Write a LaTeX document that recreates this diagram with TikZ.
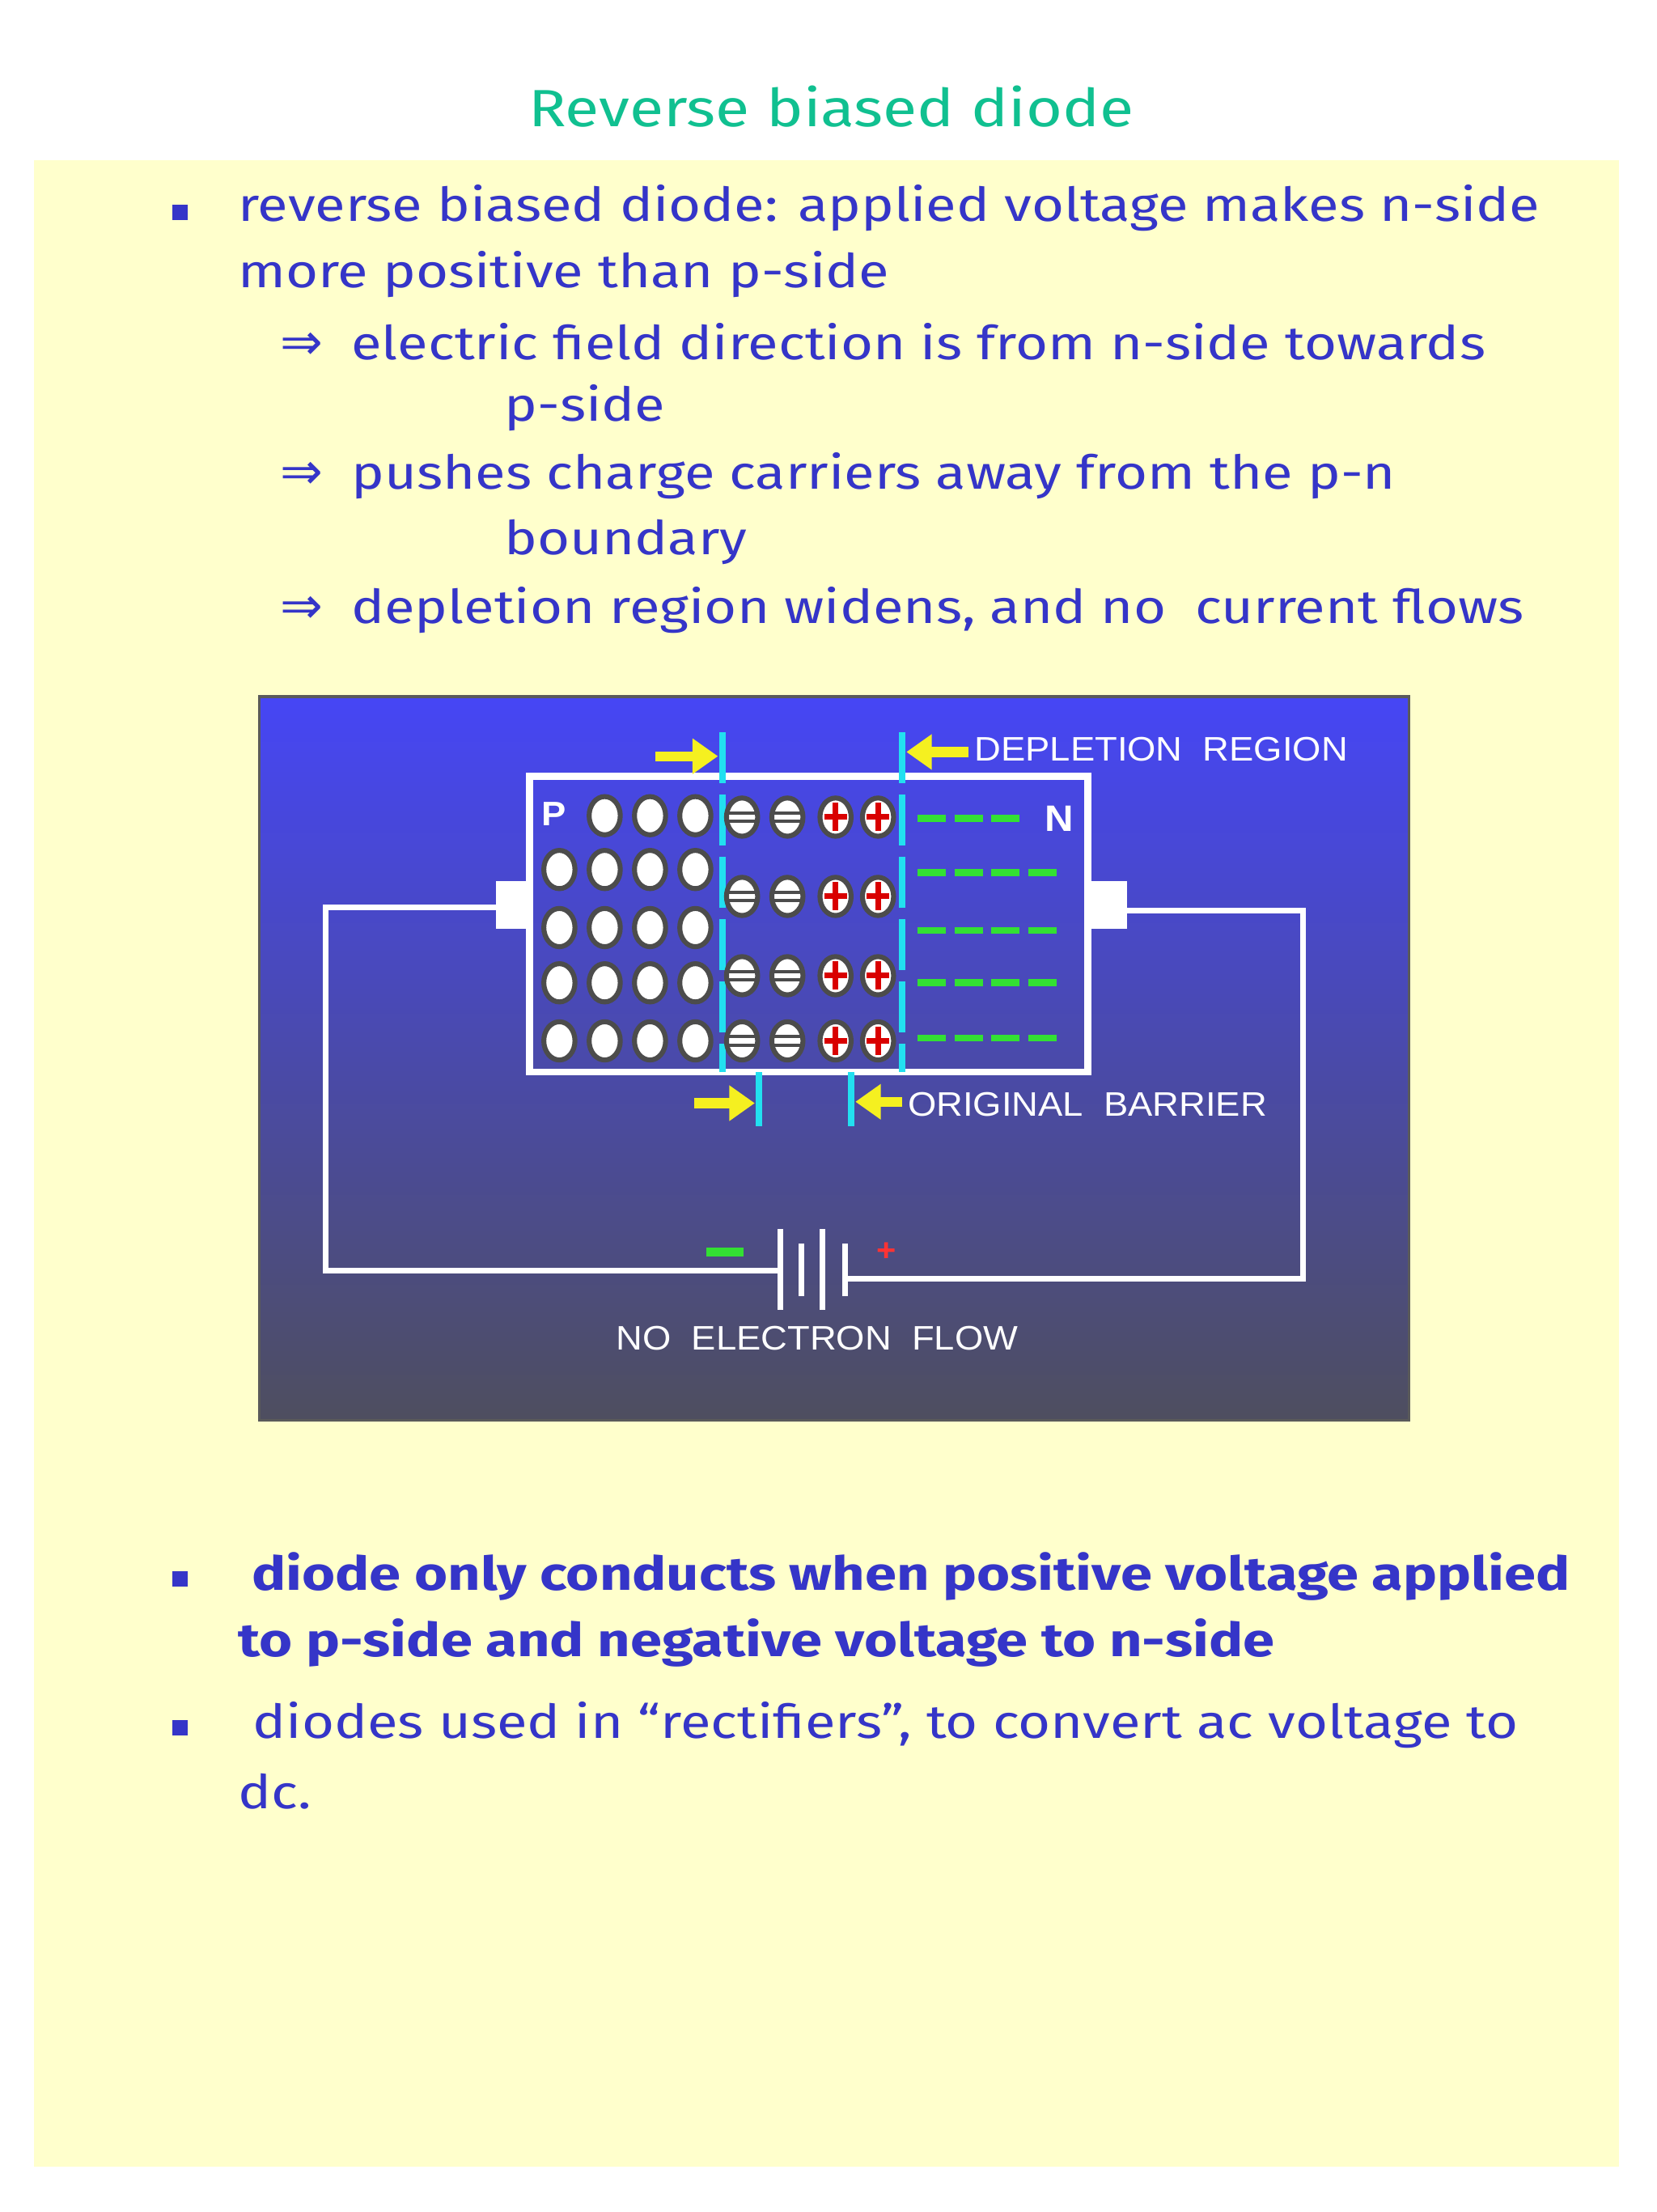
\documentclass[tikz,border=0pt]{standalone}
\usepackage{fontspec}
\setmainfont{Fira Sans}[FakeStretch=1.19]
\newfontfamily\diagfont{Liberation Sans}[FakeStretch=1.08]
\newfontfamily\symfont{DejaVu Sans}
\usetikzlibrary{shapes.geometric,arrows.meta}
\definecolor{txt}{HTML}{3535C8}
\definecolor{ttl}{HTML}{10C090}
\definecolor{pan}{HTML}{FFFFCC}
\definecolor{cy}{HTML}{22E0F0}
\definecolor{yl}{HTML}{F5F020}
\definecolor{gr}{HTML}{33E033}
\newcommand{\impl}{\makebox[50pt][l]{\symfont\fontsize{36}{36}\selectfont ⇒}}
\tikzset{
  body/.style={anchor=west,text=txt,font=\fontsize{33}{40}\selectfont,inner sep=0},
  bul/.style={fill=txt,minimum size=11,inner sep=0},
  hole/.style={ellipse,draw=black!70,line width=3.5,fill=white,minimum width=22,minimum height=27,inner sep=0},
  ion/.style={hole},
  wire/.style={white,line width=4},
  cyl/.style={cy,line width=4.5},
  yarr/.style={yl,line width=7,-{Triangle[length=18,width=24]}},
  dlab/.style={anchor=west,text=white,font=\diagfont\fontsize{24}{26}\selectfont,inner sep=0},
}
\begin{document}
\begin{tikzpicture}[x=1pt,y=-1pt]
\useasboundingbox (0,0) rectangle (1170,1562);
\fill[white] (0,0) rectangle (1170,1562);
\fill[pan] (24,113) rectangle (1143,1530);
\node[text=ttl,font=\fontsize{37}{44}\selectfont] (title) at (587,75) {Reverse biased diode};
% bullets and text
\node[bul] (b1) at (127,150) {};
\node[body] (t1) at (168,147) {reverse biased diode: applied voltage makes n-side};
\node[body] (t2) at (168,194) {more positive than p-side};
\node[body] (t3) at (198,241) {\impl electric field direction is from n-side towards};
\node[body] (t4) at (356,288) {p-side};
\node[body] (t5) at (198,336) {\impl pushes charge carriers away from the p-n};
\node[body] (t6) at (356,383) {boundary};
\node[body] (t7) at (198,431) {\impl depletion region widens, and no\ \ current flows};
\node[bul] (b2) at (127,1115) {};
\node[body,font=\bfseries\fontsize{33}{40}\selectfont\addfontfeature{FakeStretch=1.22}] (t8) at (168,1113) {\ diode only conducts when positive voltage applied};
\node[body,font=\bfseries\fontsize{33}{40}\selectfont\addfontfeature{FakeStretch=1.22}] (t9) at (168,1160) {to p-side and negative voltage to n-side};
\node[bul] (b3) at (127,1220) {};
\node[body] (t10) at (168,1218) {\ diodes used in “rectifiers”, to convert ac voltage to};
\node[body] (t11) at (168,1265) {dc.};
% diagram background
\shade[top color={rgb,255:red,70;green,70;blue,245},middle color={rgb,255:red,72;green,72;blue,232},bottom color={rgb,255:red,78;green,78;blue,95},draw={rgb,255:red,90;green,90;blue,90},line width=2] (183,492) rectangle (995,1003);
% wires
\coordinate (lt) at (352,641); \coordinate (lc) at (230,641); \coordinate (lb) at (230,897); \coordinate (bl) at (551,897);
\coordinate (rt) at (796,643); \coordinate (rc) at (920,643); \coordinate (rb) at (920,903); \coordinate (br) at (597,903);
\draw[wire] (lt) -- (lc) -- (lb) -- (bl);
\draw[wire] (rt) -- (rc) -- (rb) -- (br);
% battery
\draw[white,line width=4] (551,868) -- (551,925) (566,878) -- (566,915) (581,868) -- (581,925) (597,878) -- (597,915);
\fill[gr] (499,881) rectangle (525,887);
\node[text=red!80!white,font=\diagfont\bfseries\fontsize{22}{22}\selectfont] (bp) at (626,884) {+};
\node[text=white,font=\diagfont\fontsize{24}{26}\selectfont] (nef) at (577,945) {NO\ \ ELECTRON\ \ FLOW};
% diode body
\fill[white] (350,622) rectangle (376,656);
\fill[white] (766,622) rectangle (796,656);
\draw[white,line width=5] (374,548) rectangle (768,757);
% cyan lines
\draw[cyl,dash pattern=on 36 off 8] (510,517) -- (510,757);
\draw[cyl,dash pattern=on 36 off 8] (637,517) -- (637,757);
\draw[cyl] (536,757) -- (536,795);
\draw[cyl] (601,757) -- (601,795);
% arrows
\coordinate (a1s) at (463,534); \coordinate (a1e) at (507,534);
\coordinate (a2s) at (684,531); \coordinate (a2e) at (640,531);
\coordinate (a3s) at (490,779); \coordinate (a3e) at (533,779);
\coordinate (a4s) at (637,778); \coordinate (a4e) at (604,778);
\draw[yarr] (a1s) -- (a1e);
\draw[yarr] (a2s) -- (a2e);
\draw[yarr] (a3s) -- (a3e);
\draw[yarr] (a4s) -- (a4e);
\node[dlab] (dep) at (688,529) {DEPLETION\ \ REGION};
\node[dlab] (orig) at (641,780) {ORIGINAL\ \ BARRIER};
\node[text=white,font=\diagfont\bfseries\fontsize{24}{24}\selectfont] (P) at (391,575) {P};
\node[text=white,font=\diagfont\bfseries\fontsize{26}{26}\selectfont] (N) at (748,578) {N};
% holes
\foreach \x [count=\i] in {427,459,491} \node[hole] (h1\i) at (\x,576) {};
\foreach \y [count=\j] in {614,655,694,735}
  \foreach \x [count=\i] in {395,427,459,491} \node[hole] (h\j\i x) at (\x,\y) {};
% ions
\foreach \y [count=\j] in {577,633,689,735} {
  \foreach \x [count=\i] in {524,556} {
    \node[ion] (m\j\i) at (\x,\y) {};
    \draw[black!70,line width=2.5] (\x-9,\y-3) -- (\x+9,\y-3) (\x-9,\y+3) -- (\x+9,\y+3);
  }
  \foreach \x [count=\i] in {590,620} {
    \node[ion] (p\j\i) at (\x,\y) {};
    \draw[red!85!black,line width=4] (\x-8,\y) -- (\x+8,\y) (\x,\y-10) -- (\x,\y+10);
  }
}
% green electrons
\draw[gr,line width=5,dash pattern=on 20 off 6] (648,578) -- (725,578);
\foreach \y in {616,657,694,733} \draw[gr,line width=5,dash pattern=on 20 off 6] (648,\y) -- (752,\y);
\end{tikzpicture}
\end{document}
